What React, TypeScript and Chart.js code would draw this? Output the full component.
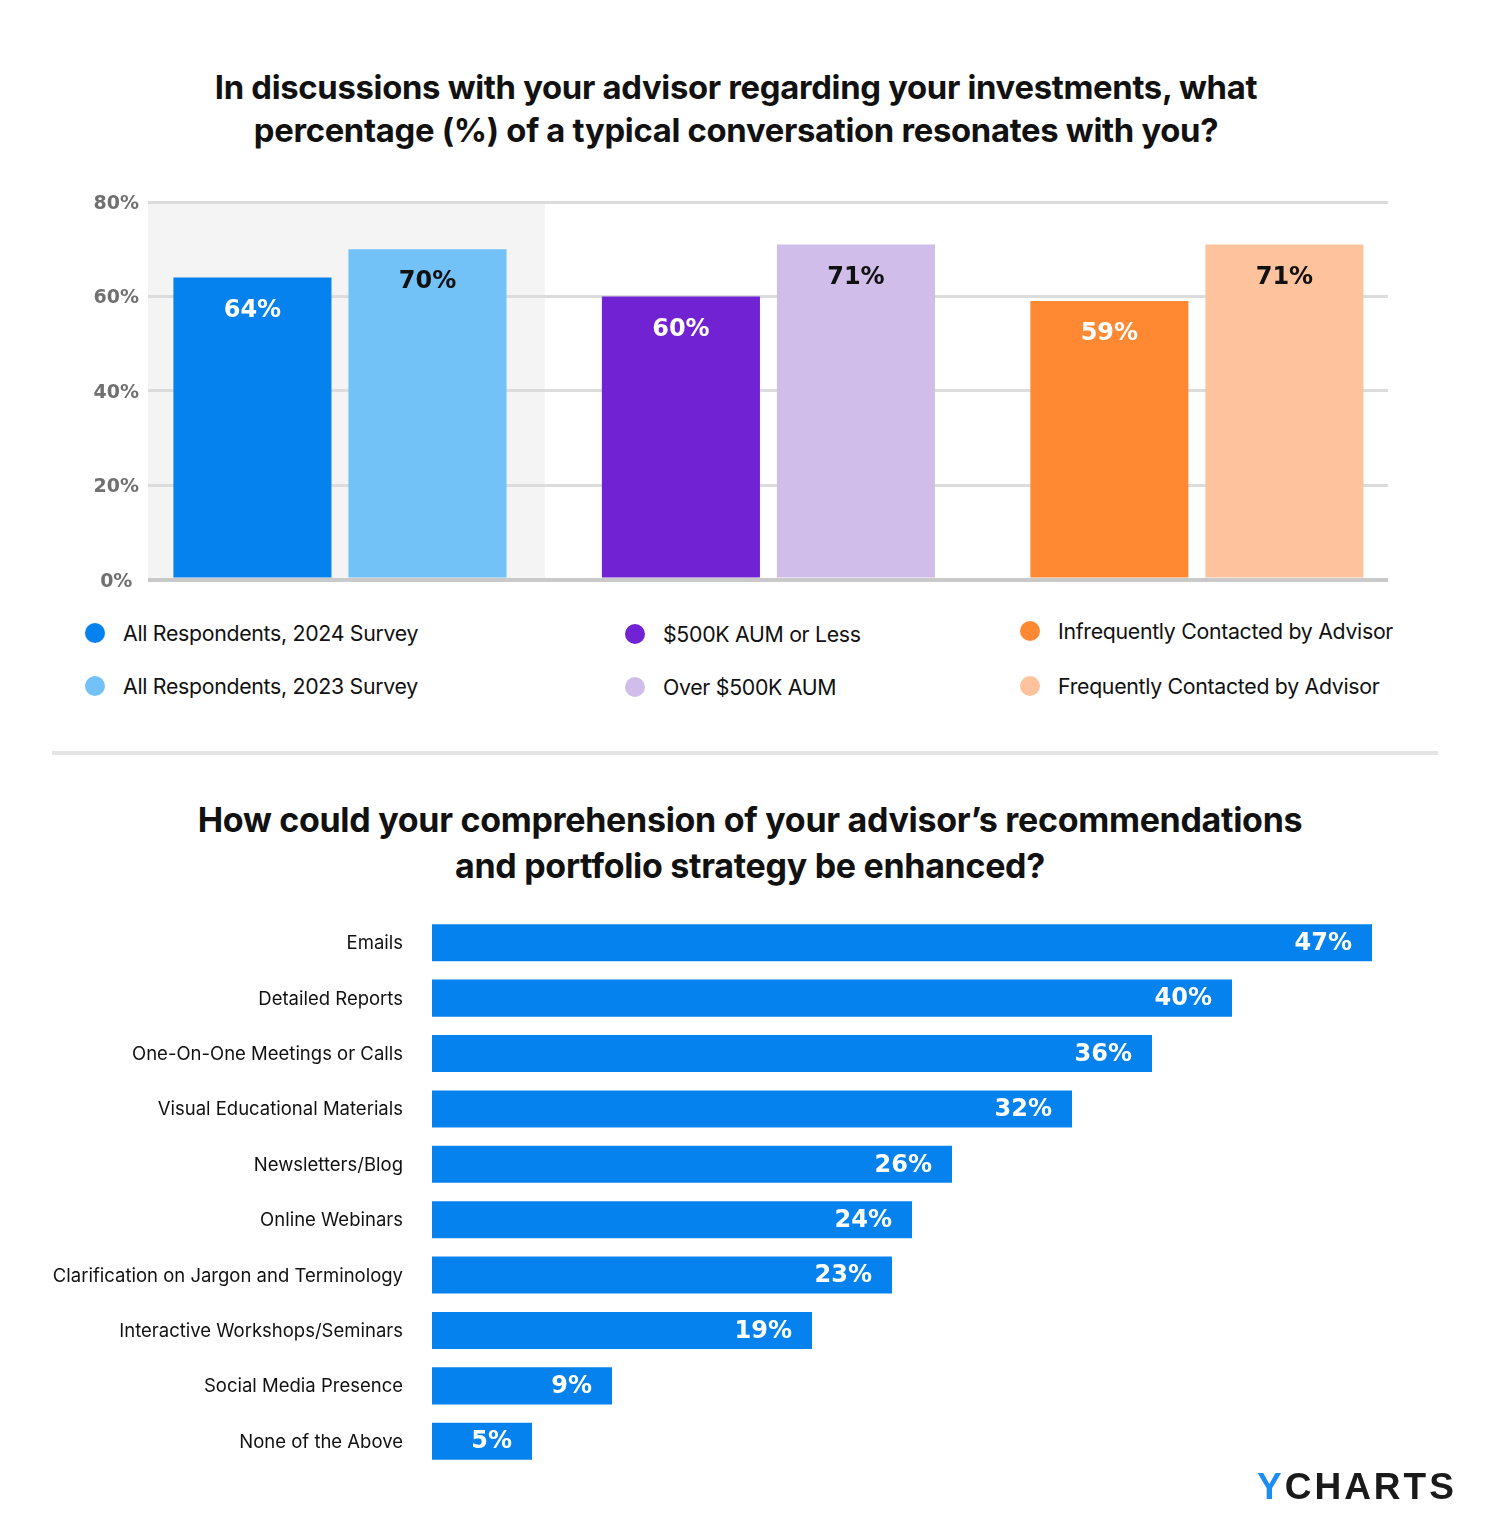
import React, { useEffect, useRef } from "react";
import { Chart, registerables } from "chart.js";

Chart.register(...registerables);

// ---- Upper chart: share of a typical conversation that resonates ----
const groupKeys = ["all", "aum", "contact"];
const firstLabels = ["All Respondents, 2024 Survey", "$500K AUM or Less", "Infrequently Contacted by Advisor"];
const secondLabels = ["All Respondents, 2023 Survey", "Over $500K AUM", "Frequently Contacted by Advisor"];
const firstValues = [64, 60, 59];
const secondValues = [70, 71, 71];
const firstColors = ["#0682EE", "#7122D2", "#FF8833"];
const secondColors = ["#72C2F7", "#D1BDE9", "#FEC29D"];
const yTickStep = 20;
const yMax = 80;

// ---- Lower chart: ways to improve comprehension ----
const methods = [
  "Emails",
  "Detailed Reports",
  "One-On-One Meetings or Calls",
  "Visual Educational Materials",
  "Newsletters/Blog",
  "Online Webinars",
  "Clarification on Jargon and Terminology",
  "Interactive Workshops/Seminars",
  "Social Media Presence",
  "None of the Above",
];
const methodValues = [47, 40, 36, 32, 26, 24, 23, 19, 9, 5];
const methodMax = 50;

const TITLE_FONT = "Inter, 'Liberation Sans', Arial, sans-serif";
const BODY_FONT = "Inter, 'Liberation Sans', Arial, sans-serif";
const NUM_FONT = "'DejaVu Sans', sans-serif";

// Shaded band behind the first group of bars
const shadePlugin = {
  id: "firstGroupShade",
  beforeDraw(chart: any) {
    const { ctx, chartArea, scales } = chart;
    const right = scales.x.getPixelForValue(0.478);
    ctx.save();
    ctx.fillStyle = "#F4F4F4";
    ctx.fillRect(chartArea.left, chartArea.top, right - chartArea.left, chartArea.bottom - chartArea.top);
    ctx.restore();
  },
};

// Value labels just inside the top of each column
const columnLabelPlugin = {
  id: "columnLabels",
  afterDatasetsDraw(chart: any) {
    const { ctx } = chart;
    ctx.save();
    ctx.font = `bold 24px ${NUM_FONT}`;
    ctx.textAlign = "center";
    ctx.textBaseline = "middle";
    chart.data.datasets.forEach((ds: any, di: number) => {
      const meta = chart.getDatasetMeta(di);
      ctx.fillStyle = ds.valueColor;
      meta.data.forEach((bar: any, i: number) => {
        ctx.fillText(`${ds.data[i].y}%`, bar.x, bar.y + 33);
      });
    });
    ctx.restore();
  },
};

// Value labels inside the end of each horizontal bar
const rowLabelPlugin = {
  id: "rowLabels",
  afterDatasetsDraw(chart: any) {
    const { ctx } = chart;
    ctx.save();
    ctx.font = `bold 24px ${NUM_FONT}`;
    ctx.textAlign = "right";
    ctx.textBaseline = "middle";
    ctx.fillStyle = "#FFFFFF";
    const meta = chart.getDatasetMeta(0);
    meta.data.forEach((bar: any, i: number) => {
      ctx.fillText(`${methodValues[i]}%`, bar.x - 20, bar.y + 1);
    });
    ctx.restore();
  },
};

export default function App() {
  const topRef = useRef<HTMLCanvasElement | null>(null);
  const bottomRef = useRef<HTMLCanvasElement | null>(null);

  useEffect(() => {
    const top = new Chart(topRef.current as HTMLCanvasElement, {
      type: "bar",
      data: {
        datasets: [
          {
            label: "first",
            data: firstValues.map((v, i) => ({ x: i, y: v })),
            backgroundColor: firstColors,
            categoryPercentage: 0.817,
            barPercentage: 0.903,
            valueColor: "#FFFFFF",
          } as any,
          {
            label: "second",
            data: secondValues.map((v, i) => ({ x: i, y: v })),
            backgroundColor: secondColors,
            categoryPercentage: 0.817,
            barPercentage: 0.903,
            valueColor: "#111111",
          } as any,
        ],
      },
      options: {
        animation: false,
        responsive: false,
        maintainAspectRatio: false,
        layout: { padding: { left: 0, right: 102, top: 22, bottom: 20 } },
        plugins: { legend: { display: false }, tooltip: { enabled: false } },
        scales: {
          x: {
            type: "linear",
            offset: false,
            min: -0.448,
            max: 2.446,
            display: false,
            grid: { offset: false },
            afterBuildTicks: (scale: any) => {
              scale.ticks = groupKeys.map((_, i) => ({ value: i }));
            },
          },
          y: {
            min: 0,
            max: yMax,
            border: { display: false },
            grid: {
              drawTicks: false,
              color: (c: any) => (c.tick && c.tick.value === 0 ? "#C9C9C9" : "#DCDCDC"),
              lineWidth: (c: any) => (c.tick && c.tick.value === 0 ? 4 : 3),
            },
            ticks: {
              stepSize: yTickStep,
              padding: 9,
              crossAlign: "center",
              labelOffset: 2,
              color: "#707070",
              font: { family: NUM_FONT, size: 19, weight: "bold" },
              callback: (v: any) => `${v}%`,
            },
            afterFit: (scale: any) => {
              scale.width = 148;
            },
          },
        },
      } as any,
      plugins: [shadePlugin, columnLabelPlugin],
    });

    const bottom = new Chart(bottomRef.current as HTMLCanvasElement, {
      type: "bar",
      data: {
        labels: methods,
        datasets: [
          {
            label: "share",
            data: methodValues,
            backgroundColor: "#0682EE",
            categoryPercentage: 1,
            barPercentage: 0.67,
          },
        ],
      },
      options: {
        indexAxis: "y",
        animation: false,
        responsive: false,
        maintainAspectRatio: false,
        layout: { padding: { left: 0, right: 58, top: 0, bottom: 0 } },
        plugins: { legend: { display: false }, tooltip: { enabled: false } },
        scales: {
          x: { min: 0, max: methodMax, display: false },
          y: {
            border: { display: false },
            grid: { display: false, drawTicks: false },
            ticks: {
              padding: 29,
              labelOffset: 1,
              color: "#111111",
              font: { family: BODY_FONT, size: 18.5 },
            },
            afterFit: (scale: any) => {
              scale.width = 432;
            },
          },
        },
      } as any,
      plugins: [rowLabelPlugin],
    });

    return () => {
      top.destroy();
      bottom.destroy();
    };
  }, []);

  const legendColumns = [
    { dotX: 95, textX: 123, rows: [633, 686] },
    { dotX: 635, textX: 663, rows: [634, 687] },
    { dotX: 1030, textX: 1058, rows: [631, 686] },
  ];

  const titleStyle = (top: number, size: number, lineHeight: number, center: number): React.CSSProperties => ({
    position: "absolute",
    top,
    left: center - 745,
    width: 1490,
    textAlign: "center",
    fontFamily: TITLE_FONT,
    fontWeight: 700,
    fontSize: size,
    lineHeight: `${lineHeight}px`,
    color: "#111111",
    letterSpacing: "-0.3px",
  });

  return (
    <div style={{ position: "absolute", left: 0, top: 0, width: 1490, height: 1536, background: "#FFFFFF", overflow: "hidden" }}>
      <div style={titleStyle(66, 32.8, 43, 736)}>
        In discussions with your advisor regarding your investments, what
        <br />
        percentage (%) of a typical conversation resonates with you?
      </div>

      <canvas
        ref={topRef}
        width={1490}
        height={420}
        style={{ position: "absolute", left: 0, top: 180, width: 1490, height: 420 }}
      />

      {legendColumns.map((col, ci) =>
        [firstLabels[ci], secondLabels[ci]].map((text, ri) => (
          <div key={`${ci}-${ri}`}>
            <div
              style={{
                position: "absolute",
                left: col.dotX - 10,
                top: col.rows[ri] - 10,
                width: 20,
                height: 20,
                borderRadius: "50%",
                background: ri === 0 ? firstColors[ci] : secondColors[ci],
              }}
            />
            <div
              style={{
                position: "absolute",
                left: col.textX,
                top: col.rows[ri] - 14,
                height: 28,
                lineHeight: "28px",
                fontFamily: BODY_FONT,
                fontSize: 21.3,
                letterSpacing: "-0.3px",
                color: "#111111",
                whiteSpace: "nowrap",
              }}
            >
              {text}
            </div>
          </div>
        ))
      )}

      <div style={{ position: "absolute", left: 52, top: 751, width: 1386, height: 4, background: "#E4E4E4" }} />

      <div style={titleStyle(797, 34, 46, 750)}>
        How could your comprehension of your advisor’s recommendations
        <br />
        and portfolio strategy be enhanced?
      </div>

      <canvas
        ref={bottomRef}
        width={1490}
        height={634}
        style={{ position: "absolute", left: 0, top: 875, width: 1490, height: 634 }}
      />

      <div
        style={{
          position: "absolute",
          left: 1257,
          top: 1466,
          fontFamily: "'Liberation Sans', Arial, sans-serif",
          fontWeight: 700,
          fontSize: 37,
          lineHeight: "42px",
          letterSpacing: "3px",
          color: "#1A1A1A",
          whiteSpace: "nowrap",
        }}
      >
        <span style={{ color: "#1E8CF5" }}>Y</span>CHARTS
      </div>
    </div>
  );
}
